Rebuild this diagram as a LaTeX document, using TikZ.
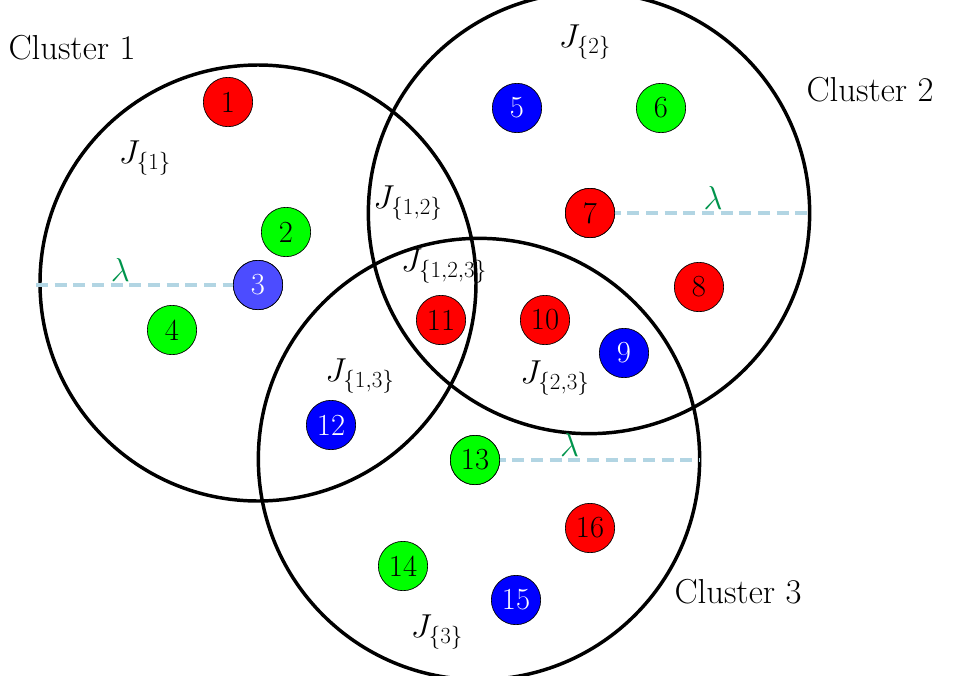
\documentclass[tikz,border=0pt]{standalone}
\begin{document}
\begin{tikzpicture}[x=0.75pt,y=-0.75pt,
  clu/.style={draw=black,line width=2.6pt},
  pt/.style={circle,draw=black,line width=0.5pt,minimum size=37pt,inner sep=0pt,font=\fontsize{23}{25}\selectfont},
  R/.style={pt,fill=red},G/.style={pt,fill=green},B/.style={pt,fill=blue,text=white},
  lam/.style={draw=cyan!50!gray!45,line width=3pt,dash pattern=on 9pt off 5pt},
  lbl/.style={font=\fontsize{26}{30}\selectfont},
  ll/.style={text=green!40!black!70!cyan,font=\fontsize{26}{30}\selectfont}]
\useasboundingbox (0,0) rectangle (957,675);
\coordinate (c1) at (258,283);
\coordinate (c2) at (589,213);
\coordinate (c3) at (479,459);
\draw[clu] (c1) circle (163.5pt);
\draw[clu] (c2) circle (165.5pt);
\draw[clu] (c3) circle (165.5pt);
\coordinate (e1) at (36,285);
\coordinate (e2) at (810,213);
\coordinate (e3) at (700,460);
\node[B,fill=blue!70] (n3) at (258,285) {3};
\node[R] (n7) at (590,213) {7};
\node[G] (n13) at (475,460) {13};
\draw[lam] (e1) -- (n3.center) node[ll,pos=0.38,above,inner sep=1pt] {$\lambda$};
\draw[lam] (n7.center) -- (e2) node[ll,pos=0.56,above,inner sep=1pt] {$\lambda$};
\draw[lam] (n13.center) -- (e3) node[ll,pos=0.42,above,inner sep=1pt] {$\lambda$};
\node[B,fill=blue!70] at (258,285) {3};
\node[R] at (590,213) {7};
\node[G] at (475,460) {13};
\node[R] (n1) at (228,102) {1};
\node[G] (n2) at (286,232) {2};
\node[G] (n4) at (172,330) {4};
\node[B] (n5) at (517,108) {5};
\node[G] (n6) at (661,108) {6};
\node[R] (n8) at (699,287) {8};
\node[B] (n9) at (624,353) {9};
\node[R] (n10) at (545,320) {10};
\node[R] (n11) at (441,320) {11};
\node[B] (n12) at (331,425) {12};
\node[G] (n14) at (403,566) {14};
\node[B] (n15) at (516,600) {15};
\node[R] (n16) at (590,528) {16};
\node[lbl] (t1) at (72,48) {Cluster 1};
\node[lbl] (t2) at (870,90) {Cluster 2};
\node[lbl] (t3) at (738,592) {Cluster 3};
\node[lbl] (j1) at (145,158) {$J_{\{1\}}$};
\node[lbl] (j2) at (585,42) {$J_{\{2\}}$};
\node[lbl] (j12) at (408,203) {$J_{\{1,2\}}$};
\node[lbl] (j123) at (444,266) {$J_{\{1,2,3\}}$};
\node[lbl] (j13) at (360,376) {$J_{\{1,3\}}$};
\node[lbl] (j23) at (555,378) {$J_{\{2,3\}}$};
\node[lbl] (j3) at (437,632) {$J_{\{3\}}$};
\end{tikzpicture}
\end{document}
